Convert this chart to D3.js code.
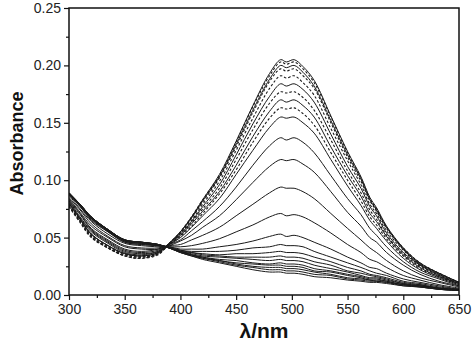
<!DOCTYPE html>
<html>
<head>
<meta charset="utf-8">
<script src="https://cdn.jsdelivr.net/npm/d3@7"></script>
<style>
  html, body { margin: 0; padding: 0; background: #fff; }
  svg { display: block; }
</style>
</head>
<body>
<svg id="chart" width="474" height="348"></svg>
<script>
// Wavelength grid (nm) shared by every spectrum
const wavelengths = [300, 310, 320, 335, 350, 365, 380, 390, 400, 410, 420, 435, 450, 465, 480,
                     490, 495, 502, 510, 520, 535, 550, 562, 570, 576, 585, 600, 615, 632, 650];

// Absorbance spectra recorded over time, from the final (highest band) to the first
const spectra = [
  [0.080,0.066,0.053,0.043,0.036,0.034,0.037,0.045,0.055,0.068,0.083,0.105,0.134,0.165,0.193,0.205,0.203,0.205,0.199,0.187,0.156,0.125,0.103,0.085,0.076,0.060,0.041,0.028,0.019,0.011],
  [0.077,0.063,0.050,0.041,0.035,0.033,0.036,0.045,0.055,0.068,0.083,0.104,0.133,0.164,0.191,0.203,0.201,0.203,0.197,0.185,0.155,0.124,0.102,0.084,0.075,0.059,0.041,0.028,0.019,0.011],
  [0.080,0.066,0.053,0.043,0.036,0.034,0.037,0.045,0.055,0.067,0.082,0.103,0.131,0.161,0.188,0.200,0.198,0.200,0.194,0.182,0.152,0.122,0.101,0.083,0.074,0.059,0.040,0.027,0.019,0.011],
  [0.077,0.064,0.051,0.041,0.034,0.032,0.035,0.045,0.054,0.067,0.081,0.102,0.129,0.159,0.186,0.197,0.195,0.197,0.191,0.180,0.150,0.120,0.099,0.082,0.073,0.058,0.040,0.027,0.018,0.011],
  [0.078,0.064,0.051,0.041,0.034,0.032,0.036,0.045,0.054,0.065,0.079,0.099,0.126,0.154,0.180,0.191,0.189,0.191,0.185,0.174,0.145,0.117,0.096,0.079,0.071,0.056,0.039,0.026,0.018,0.010],
  [0.081,0.067,0.055,0.045,0.037,0.035,0.038,0.045,0.053,0.064,0.077,0.096,0.122,0.149,0.173,0.184,0.182,0.184,0.179,0.168,0.140,0.112,0.093,0.077,0.069,0.054,0.037,0.026,0.017,0.010],
  [0.078,0.065,0.052,0.042,0.035,0.033,0.036,0.044,0.052,0.063,0.075,0.093,0.118,0.144,0.167,0.177,0.176,0.177,0.172,0.161,0.135,0.108,0.089,0.074,0.066,0.052,0.036,0.025,0.017,0.010],
  [0.082,0.068,0.056,0.046,0.038,0.036,0.038,0.044,0.052,0.062,0.073,0.090,0.113,0.138,0.160,0.170,0.168,0.170,0.165,0.155,0.129,0.104,0.086,0.071,0.064,0.051,0.035,0.024,0.016,0.010],
  [0.079,0.066,0.053,0.043,0.036,0.034,0.037,0.044,0.051,0.060,0.071,0.088,0.109,0.133,0.154,0.163,0.162,0.163,0.158,0.148,0.124,0.100,0.082,0.068,0.061,0.049,0.034,0.023,0.016,0.009],
  [0.082,0.070,0.057,0.047,0.039,0.037,0.039,0.044,0.050,0.059,0.069,0.084,0.105,0.126,0.146,0.155,0.154,0.155,0.150,0.141,0.118,0.095,0.078,0.065,0.058,0.047,0.032,0.022,0.015,0.009],
  [0.083,0.071,0.058,0.048,0.040,0.038,0.040,0.044,0.048,0.056,0.064,0.077,0.094,0.113,0.130,0.137,0.135,0.137,0.133,0.124,0.104,0.084,0.070,0.058,0.052,0.042,0.029,0.020,0.014,0.008],
  [0.084,0.072,0.060,0.050,0.042,0.040,0.040,0.043,0.047,0.052,0.059,0.069,0.083,0.098,0.112,0.118,0.117,0.118,0.114,0.107,0.090,0.072,0.060,0.050,0.046,0.037,0.026,0.018,0.012,0.008],
  [0.085,0.074,0.062,0.051,0.043,0.041,0.041,0.043,0.044,0.048,0.052,0.059,0.069,0.079,0.089,0.094,0.093,0.093,0.090,0.084,0.071,0.058,0.048,0.041,0.037,0.030,0.021,0.015,0.011,0.007],
  [0.087,0.075,0.064,0.053,0.045,0.043,0.042,0.042,0.042,0.043,0.045,0.049,0.055,0.061,0.068,0.071,0.069,0.070,0.068,0.063,0.054,0.044,0.037,0.031,0.029,0.024,0.017,0.013,0.009,0.006],
  [0.087,0.077,0.065,0.055,0.046,0.044,0.043,0.042,0.040,0.040,0.040,0.042,0.044,0.047,0.051,0.053,0.051,0.052,0.050,0.046,0.040,0.033,0.028,0.024,0.023,0.019,0.014,0.011,0.008,0.005],
  [0.088,0.077,0.066,0.055,0.046,0.044,0.043,0.042,0.039,0.038,0.038,0.038,0.039,0.041,0.042,0.044,0.043,0.043,0.042,0.038,0.033,0.028,0.024,0.021,0.019,0.017,0.012,0.010,0.007,0.005],
  [0.088,0.078,0.067,0.056,0.047,0.045,0.043,0.041,0.039,0.037,0.036,0.035,0.036,0.036,0.037,0.038,0.037,0.037,0.036,0.033,0.029,0.024,0.021,0.018,0.017,0.015,0.011,0.009,0.006,0.005],
  [0.088,0.078,0.067,0.056,0.047,0.045,0.043,0.041,0.038,0.037,0.035,0.034,0.033,0.033,0.033,0.034,0.033,0.033,0.032,0.029,0.026,0.021,0.019,0.017,0.016,0.014,0.010,0.009,0.006,0.005],
  [0.088,0.078,0.067,0.056,0.047,0.045,0.044,0.041,0.038,0.036,0.034,0.033,0.032,0.031,0.030,0.031,0.030,0.030,0.029,0.026,0.023,0.020,0.017,0.015,0.015,0.013,0.010,0.008,0.006,0.004],
  [0.089,0.078,0.067,0.056,0.048,0.046,0.044,0.041,0.038,0.035,0.033,0.031,0.030,0.028,0.027,0.028,0.027,0.027,0.026,0.023,0.021,0.018,0.016,0.014,0.014,0.012,0.009,0.008,0.006,0.004],
  [0.089,0.079,0.068,0.057,0.048,0.046,0.044,0.041,0.038,0.035,0.033,0.030,0.028,0.027,0.026,0.026,0.025,0.025,0.024,0.021,0.020,0.017,0.015,0.013,0.013,0.012,0.009,0.008,0.005,0.004],
  [0.089,0.079,0.068,0.057,0.048,0.046,0.044,0.041,0.037,0.035,0.032,0.030,0.027,0.025,0.024,0.024,0.023,0.023,0.022,0.020,0.018,0.015,0.014,0.013,0.012,0.011,0.009,0.007,0.005,0.004],
  [0.089,0.079,0.068,0.057,0.048,0.046,0.044,0.041,0.037,0.034,0.032,0.029,0.026,0.024,0.022,0.022,0.021,0.021,0.020,0.018,0.017,0.014,0.013,0.012,0.012,0.011,0.008,0.007,0.005,0.004],
  [0.089,0.079,0.068,0.057,0.048,0.046,0.044,0.041,0.037,0.034,0.031,0.028,0.025,0.022,0.020,0.020,0.019,0.019,0.018,0.016,0.015,0.013,0.012,0.011,0.011,0.010,0.008,0.007,0.005,0.004]
];

// Which spectra are drawn with a dashed stroke
const dashed = [false, true, false, true, true, false, true, false, true, false, false, false,
                false, false, false, false, false, false, false, false, false, false, false, false];

const xTicks = [300, 350, 400, 450, 500, 550, 600, 650];
const xMinorTicks = [325, 375, 425, 475, 525, 575, 625];
const yTicks = [0.00, 0.05, 0.10, 0.15, 0.20, 0.25];
const yMinorTicks = [0.025, 0.075, 0.125, 0.175, 0.225];

const xTitle = "λ/nm";
const yTitle = "Absorbance";

const margin = { top: 8, right: 15, bottom: 53, left: 69 };
const width = 474, height = 348;
const innerW = width - margin.left - margin.right;
const innerH = height - margin.top - margin.bottom;

const svg = d3.select("#chart");
const g = svg.append("g").attr("transform", `translate(${margin.left},${margin.top})`);

const x = d3.scaleLinear().domain([300, 650]).range([0, innerW]);
const y = d3.scaleLinear().domain([0, 0.25]).range([innerH, 0]);

svg.append("defs").append("clipPath").attr("id", "plotClip")
  .append("rect").attr("width", innerW).attr("height", innerH);

// Spectra
const line = d3.line()
  .x((d, i) => x(wavelengths[i]))
  .y(d => y(d))
  .curve(d3.curveCatmullRom.alpha(0.5));

g.append("g").attr("clip-path", "url(#plotClip)")
  .selectAll("path")
  .data(spectra)
  .join("path")
  .attr("d", line)
  .attr("fill", "none")
  .attr("stroke", "#1a1a1a")
  .attr("stroke-width", (d, i) => dashed[i] ? 1.1 : 1)
  .attr("stroke-dasharray", (d, i) => dashed[i] ? "2.5,2" : null);

// Axes
const fontFamily = "'Liberation Sans', Arial, Helvetica, sans-serif";

const xAxis = g.append("g").attr("transform", `translate(0,${innerH})`)
  .call(d3.axisBottom(x).tickValues(xTicks).tickFormat(d3.format("d")).tickSize(5).tickPadding(4));
const xMinor = g.append("g").attr("transform", `translate(0,${innerH})`)
  .call(d3.axisBottom(x).tickValues(xMinorTicks).tickFormat("").tickSize(3));

const yAxis = g.append("g")
  .call(d3.axisLeft(y).tickValues(yTicks).tickFormat(d3.format(".2f")).tickSize(5).tickPadding(3));
const yMinor = g.append("g")
  .call(d3.axisLeft(y).tickValues(yMinorTicks).tickFormat("").tickSize(3));

[xAxis, xMinor, yAxis, yMinor].forEach(a => {
  a.select(".domain").remove();
  a.selectAll(".tick line").attr("stroke", "#111").attr("stroke-width", 1.2);
  a.selectAll(".tick text")
    .attr("font-family", fontFamily)
    .attr("font-size", 14)
    .attr("fill", "#222");
});

// Frame
g.append("rect")
  .attr("width", innerW).attr("height", innerH)
  .attr("fill", "none").attr("stroke", "#111").attr("stroke-width", 1.5);

// Axis titles
svg.append("text")
  .attr("x", margin.left + innerW / 2)
  .attr("y", 338)
  .attr("text-anchor", "middle")
  .attr("font-family", fontFamily)
  .attr("font-weight", "bold")
  .attr("font-size", 21)
  .attr("fill", "#111")
  .text(xTitle);

svg.append("text")
  .attr("transform", `translate(23,${margin.top + innerH / 2 - 8}) rotate(-90)`)
  .attr("text-anchor", "middle")
  .attr("font-family", fontFamily)
  .attr("font-weight", "bold")
  .attr("font-size", 18)
  .attr("fill", "#111")
  .text(yTitle);
</script>
</body>
</html>
